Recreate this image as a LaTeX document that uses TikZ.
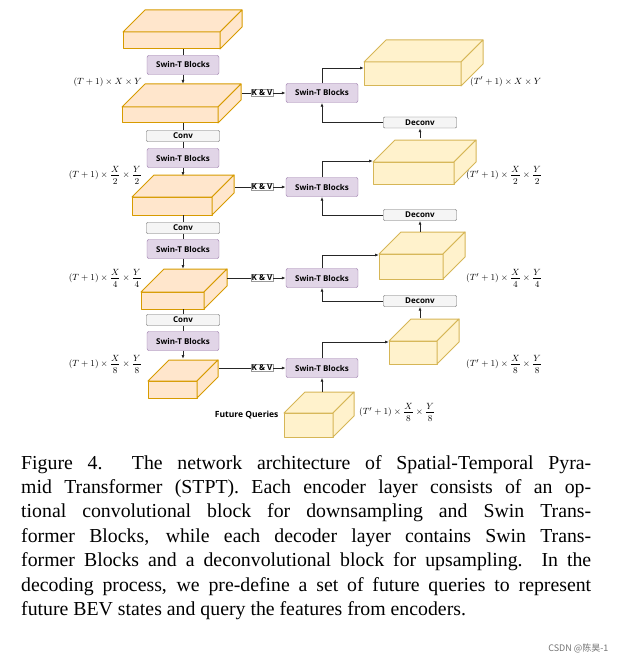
\documentclass[tikz,border=0pt]{standalone}
\usepackage{fontspec}
\setmainfont{Liberation Serif}
\newfontfamily\sans{Open Sans}
\newfontfamily\cjk{Noto Sans CJK SC}
\usetikzlibrary{arrows.meta}
\definecolor{encfill}{HTML}{FFE6CC}
\definecolor{encline}{HTML}{D79B00}
\definecolor{decfill}{HTML}{FFF2CC}
\definecolor{decline}{HTML}{D6B656}
\definecolor{swinfill}{HTML}{E1D5E7}
\definecolor{swinline}{HTML}{9673A6}
% front top-left x, y, width, height, depth, style
\newcommand\boxcube[6]{%
  \draw[#6] (#1,#2) rectangle (#1+#3,#2+#4);
  \draw[#6] (#1,#2) -- (#1+#5,#2-#5) -- (#1+#3+#5,#2-#5) -- (#1+#3,#2) -- cycle;
  \draw[#6] (#1+#3,#2) -- (#1+#3+#5,#2-#5) -- (#1+#3+#5,#2+#4-#5) -- (#1+#3,#2+#4) -- cycle;
}
\newcommand\fr[2]{\displaystyle\frac{#1}{#2}}
\tikzset{
  enc/.style={draw=encline,fill=encfill,line width=1pt,line join=round},
  dec/.style={draw=decline,fill=decfill,line width=1pt,line join=round},
  swin/.style={draw=swinline,fill=swinfill,rounded corners=2pt,minimum width=72pt,minimum height=19pt,font=\sans\bfseries\fontsize{8}{9}\selectfont},
  conv/.style={draw=black!60,fill=black!4,rounded corners=1pt,minimum width=73pt,minimum height=11pt,inner sep=0pt,font=\sans\bfseries\fontsize{8}{9}\selectfont},
  kv/.style={draw=black!40,fill=white,inner sep=0.5pt,font=\sans\bfseries\fontsize{8}{9}\selectfont},
  dim/.style={font=\fontsize{9.5}{10}\selectfont,inner sep=1pt},
  link/.style={line width=0.8pt,black!85},
  arr/.style={link,-{Latex[length=4pt,width=3pt]}}
}
\begin{document}
\begin{tikzpicture}[x=1pt,y=-1pt]
\useasboundingbox (0,0) rectangle (621,666);

% encoder
\boxcube{123}{32}{97}{17}{22}{enc}
\boxcube{122}{107}{96}{16}{23}{enc}
\boxcube{132}{197}{80}{18}{22}{enc}
\boxcube{141}{292}{63}{17}{23}{enc}
\boxcube{148}{381}{49}{17}{21}{enc}

% decoder
\boxcube{364}{62}{97}{24}{22}{dec}
\boxcube{373}{162}{81}{22}{22}{dec}
\boxcube{379}{254}{64}{25}{22}{dec}
\boxcube{389}{341}{48}{23}{22}{dec}
\boxcube{284}{413}{49}{24}{21}{dec}

% encoder blocks
\node[swin] (es1) at (183,65) {Swin-T Blocks};
\node[conv] (cv1) at (183,136) {Conv};
\node[swin] (es2) at (183,158) {Swin-T Blocks};
\node[conv] (cv2) at (183,228) {Conv};
\node[swin] (es3) at (183,249) {Swin-T Blocks};
\node[conv] (cv3) at (183,320) {Conv};
\node[swin] (es4) at (183,341) {Swin-T Blocks};

% decoder blocks
\node[swin] (ds1) at (322,93) {Swin-T Blocks};
\node[swin] (ds2) at (322,187) {Swin-T Blocks};
\node[swin] (ds3) at (322,278) {Swin-T Blocks};
\node[swin] (ds4) at (322,368) {Swin-T Blocks};
\node[conv] (dc1) at (420,122.5) {Deconv};
\node[conv] (dc2) at (420,215) {Deconv};
\node[conv] (dc3) at (420,301) {Deconv};

% cube anchor points
\coordinate (e1b) at (183,49);
\coordinate (e2t) at (183,84);
\coordinate (e2b) at (183,123);
\coordinate (e3t) at (183,176);
\coordinate (e3b) at (183,215);
\coordinate (e4t) at (183,269);
\coordinate (e4b) at (183,309);
\coordinate (e5t) at (183,359);
\coordinate (e2r) at (242,93);
\coordinate (e3r) at (235,187);
\coordinate (e4r) at (227,278);
\coordinate (e5r) at (219,368);
\coordinate (d1l) at (364,68);
\coordinate (d2l) at (373,161);
\coordinate (d3l) at (379,255);
\coordinate (d4l) at (389,342);
\coordinate (d2t) at (420,138);
\coordinate (d3t) at (420,232);
\coordinate (d4t) at (420,318);
\coordinate (fqt) at (322,392);

% encoder path
\draw[link] (e1b) -- (es1);
\draw[arr] (es1) -- (e2t);
\draw[link] (e2b) -- (cv1) -- (es2);
\draw[arr] (es2) -- (e3t);
\draw[link] (e3b) -- (cv2) -- (es3);
\draw[arr] (es3) -- (e4t);
\draw[link] (e4b) -- (cv3) -- (es4);
\draw[arr] (es4) -- (e5t);

% keys and values
\foreach \e/\d [count=\i] in {e2r/ds1,e3r/ds2,e4r/ds3,e5r/ds4}{
  \node[kv] (kv\i) at (262,0 |- \d) {K \& V};
  \draw[link] (\e) -- (kv\i);
  \draw[arr] (kv\i) -- (\d);
}

% decoder path
\draw[arr] (ds1.north) |- (d1l);
\draw[arr] (ds2.north) |- (d2l);
\draw[arr] (ds3.north) |- (d3l);
\draw[arr] (ds4.north) |- (d4l);
\draw[arr] (d2t) -- (dc1);
\draw[arr] (d3t) -- (dc2);
\draw[arr] (d4t) -- (dc3);
\draw[arr] (dc1.west) -| (ds1.south);
\draw[arr] (dc2.west) -| (ds2.south);
\draw[arr] (dc3.west) -| (ds3.south);
\draw[arr] (fqt) -- (ds4.south);

% sizes
\node[dim,anchor=east] at (143,82) {$(T+1)\times X\times Y$};
\node[dim,anchor=east] at (143,175) {$(T+1)\times \fr{X}{2}\times \fr{Y}{2}$};
\node[dim,anchor=east] at (143,278) {$(T+1)\times \fr{X}{4}\times \fr{Y}{4}$};
\node[dim,anchor=east] at (143,364) {$(T+1)\times \fr{X}{8}\times \fr{Y}{8}$};
\node[dim,anchor=west] at (469,82) {$(T'+1)\times X\times Y$};
\node[dim,anchor=west] at (465,175) {$(T'+1)\times \fr{X}{2}\times \fr{Y}{2}$};
\node[dim,anchor=west] at (465,278) {$(T'+1)\times \fr{X}{4}\times \fr{Y}{4}$};
\node[dim,anchor=west] at (465,364) {$(T'+1)\times \fr{X}{8}\times \fr{Y}{8}$};
\node[dim,anchor=west] at (358,412) {$(T'+1)\times \fr{X}{8}\times \fr{Y}{8}$};
\node[anchor=east,font=\sans\bfseries\fontsize{8.5}{10}\selectfont] at (282,415) {Future Queries};

% caption
\node[anchor=north west,inner sep=0pt,text width=570pt,align=justify,
  font=\fontsize{19.8}{24.4}\selectfont] at (21,455)
  {Figure 4.\ \ The network architecture of Spatial-Temporal Pyra-\linebreak
   mid Transformer (STPT). Each encoder layer consists of an op-\linebreak
   tional convolutional block for downsampling and Swin Trans-\linebreak
   former Blocks, while each decoder layer contains Swin Trans-\linebreak
   former Blocks and a deconvolutional block for upsampling. In the\linebreak
   decoding process, we pre-define a set of future queries to represent\linebreak
   future BEV states and query the features from encoders.};
\node[anchor=east,text=black!55,font=\cjk\fontsize{9}{10}\selectfont] at (612,648) {CSDN @陈昊-1};
\end{tikzpicture}
\end{document}
